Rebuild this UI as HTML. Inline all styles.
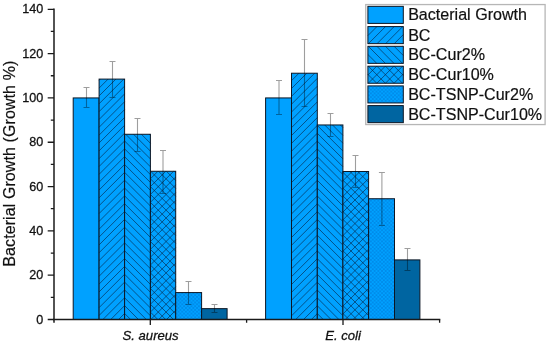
<!DOCTYPE html>
<html><head><meta charset="utf-8"><title>Bacterial Growth</title>
<style>
html,body{margin:0;padding:0;background:#fff;}
svg{display:block;font-family:"Liberation Sans",sans-serif;fill:#111;}
text{stroke:#111;}
</style></head>
<body>
<svg width="550" height="344" viewBox="0 0 550 344">
<defs>
<pattern id="p4" patternUnits="userSpaceOnUse" width="3.7" height="3.7">
<circle cx="0.925" cy="0.925" r="0.95" fill="#0040a0" fill-opacity="0.28"/>
<circle cx="2.775" cy="2.775" r="0.95" fill="#0040a0" fill-opacity="0.28"/>
</pattern>
</defs>
<rect width="550" height="344" fill="#fff"/>
<g>
<rect x="73.20" y="97.93" width="25.90" height="221.57" fill="#00a1ff"/>
<rect x="73.20" y="97.93" width="25.90" height="221.57" fill="none" stroke="#0c1624" stroke-width="1"/>
<rect x="99.10" y="79.10" width="25.50" height="240.40" fill="#00a1ff"/>
<path d="M99.10 80.24L100.24 79.10M99.10 88.08L108.08 79.10M99.10 95.92L115.92 79.10M99.10 103.76L123.76 79.10M99.10 111.60L124.60 86.10M99.10 119.44L124.60 93.94M99.10 127.28L124.60 101.78M99.10 135.12L124.60 109.62M99.10 142.96L124.60 117.46M99.10 150.80L124.60 125.30M99.10 158.64L124.60 133.14M99.10 166.48L124.60 140.98M99.10 174.32L124.60 148.82M99.10 182.16L124.60 156.66M99.10 190.00L124.60 164.50M99.10 197.84L124.60 172.34M99.10 205.68L124.60 180.18M99.10 213.52L124.60 188.02M99.10 221.36L124.60 195.86M99.10 229.20L124.60 203.70M99.10 237.04L124.60 211.54M99.10 244.88L124.60 219.38M99.10 252.72L124.60 227.22M99.10 260.56L124.60 235.06M99.10 268.40L124.60 242.90M99.10 276.24L124.60 250.74M99.10 284.08L124.60 258.58M99.10 291.92L124.60 266.42M99.10 299.76L124.60 274.26M99.10 307.60L124.60 282.10M99.10 315.44L124.60 289.94M102.88 319.50L124.60 297.78M110.72 319.50L124.60 305.62M118.56 319.50L124.60 313.46" stroke="#062445" stroke-width="0.64" fill="none"/>
<rect x="99.10" y="79.10" width="25.50" height="240.40" fill="none" stroke="#0c1624" stroke-width="1"/>
<rect x="124.60" y="134.27" width="25.80" height="185.23" fill="#00a1ff"/>
<path d="M149.25 134.27L150.40 135.42M141.41 134.27L150.40 143.26M133.57 134.27L150.40 151.10M125.73 134.27L150.40 158.94M124.60 140.98L150.40 166.78M124.60 148.82L150.40 174.62M124.60 156.66L150.40 182.46M124.60 164.50L150.40 190.30M124.60 172.34L150.40 198.14M124.60 180.18L150.40 205.98M124.60 188.02L150.40 213.82M124.60 195.86L150.40 221.66M124.60 203.70L150.40 229.50M124.60 211.54L150.40 237.34M124.60 219.38L150.40 245.18M124.60 227.22L150.40 253.02M124.60 235.06L150.40 260.86M124.60 242.90L150.40 268.70M124.60 250.74L150.40 276.54M124.60 258.58L150.40 284.38M124.60 266.42L150.40 292.22M124.60 274.26L150.40 300.06M124.60 282.10L150.40 307.90M124.60 289.94L150.40 315.74M124.60 297.78L146.32 319.50M124.60 305.62L138.48 319.50M124.60 313.46L130.64 319.50" stroke="#062445" stroke-width="0.64" fill="none"/>
<rect x="124.60" y="134.27" width="25.80" height="185.23" fill="none" stroke="#0c1624" stroke-width="1"/>
<rect x="150.40" y="171.27" width="25.30" height="148.23" fill="#00a1ff"/>
<path d="M150.40 178.80L157.93 171.27M150.40 186.64L165.77 171.27M150.40 194.48L173.61 171.27M150.40 202.32L175.70 177.02M150.40 210.16L175.70 184.86M150.40 218.00L175.70 192.70M150.40 225.84L175.70 200.54M150.40 233.68L175.70 208.38M150.40 241.52L175.70 216.22M150.40 249.36L175.70 224.06M150.40 257.20L175.70 231.90M150.40 265.04L175.70 239.74M150.40 272.88L175.70 247.58M150.40 280.72L175.70 255.42M150.40 288.56L175.70 263.26M150.40 296.40L175.70 271.10M150.40 304.24L175.70 278.94M150.40 312.08L175.70 286.78M150.82 319.50L175.70 294.62M158.66 319.50L175.70 302.46M166.50 319.50L175.70 310.30M174.34 319.50L175.70 318.14M174.23 171.27L175.70 172.74M166.39 171.27L175.70 180.58M158.55 171.27L175.70 188.42M150.71 171.27L175.70 196.26M150.40 178.80L175.70 204.10M150.40 186.64L175.70 211.94M150.40 194.48L175.70 219.78M150.40 202.32L175.70 227.62M150.40 210.16L175.70 235.46M150.40 218.00L175.70 243.30M150.40 225.84L175.70 251.14M150.40 233.68L175.70 258.98M150.40 241.52L175.70 266.82M150.40 249.36L175.70 274.66M150.40 257.20L175.70 282.50M150.40 265.04L175.70 290.34M150.40 272.88L175.70 298.18M150.40 280.72L175.70 306.02M150.40 288.56L175.70 313.86M150.40 296.40L173.50 319.50M150.40 304.24L165.66 319.50M150.40 312.08L157.82 319.50" stroke="#062445" stroke-width="0.64" fill="none"/>
<rect x="150.40" y="171.27" width="25.30" height="148.23" fill="none" stroke="#0c1624" stroke-width="1"/>
<rect x="175.70" y="292.58" width="25.90" height="26.92" fill="#00a1ff"/>
<rect x="175.70" y="292.58" width="25.90" height="26.92" fill="url(#p4)"/>
<rect x="175.70" y="292.58" width="25.90" height="26.92" fill="none" stroke="#0c1624" stroke-width="1"/>
<rect x="201.60" y="308.64" width="25.50" height="10.86" fill="#0065a1"/>
<rect x="201.60" y="308.64" width="25.50" height="10.86" fill="none" stroke="#0c1624" stroke-width="1"/>
<path d="M86.50 87.50V107.50M83.50 87.50h6M83.50 107.50h6" stroke="#000" stroke-opacity="0.38" stroke-width="1.1" fill="none"/>
<path d="M112.50 61.50V97.50M109.50 61.50h6M109.50 97.50h6" stroke="#000" stroke-opacity="0.38" stroke-width="1.1" fill="none"/>
<path d="M137.50 118.50V151.50M134.50 118.50h6M134.50 151.50h6" stroke="#000" stroke-opacity="0.38" stroke-width="1.1" fill="none"/>
<path d="M163.00 150.50V193.50M160.00 150.50h6M160.00 193.50h6" stroke="#000" stroke-opacity="0.38" stroke-width="1.1" fill="none"/>
<path d="M188.50 281.50V304.50M185.50 281.50h6M185.50 304.50h6" stroke="#000" stroke-opacity="0.38" stroke-width="1.1" fill="none"/>
<path d="M214.50 304.50V312.50M211.50 304.50h6M211.50 312.50h6" stroke="#000" stroke-opacity="0.38" stroke-width="1.1" fill="none"/>
<rect x="265.60" y="97.93" width="25.90" height="221.57" fill="#00a1ff"/>
<rect x="265.60" y="97.93" width="25.90" height="221.57" fill="none" stroke="#0c1624" stroke-width="1"/>
<rect x="291.50" y="73.22" width="25.80" height="246.28" fill="#00a1ff"/>
<path d="M291.50 80.66L298.94 73.22M291.50 88.50L306.78 73.22M291.50 96.34L314.62 73.22M291.50 104.18L317.30 78.38M291.50 112.02L317.30 86.22M291.50 119.86L317.30 94.06M291.50 127.70L317.30 101.90M291.50 135.54L317.30 109.74M291.50 143.38L317.30 117.58M291.50 151.22L317.30 125.42M291.50 159.06L317.30 133.26M291.50 166.90L317.30 141.10M291.50 174.74L317.30 148.94M291.50 182.58L317.30 156.78M291.50 190.42L317.30 164.62M291.50 198.26L317.30 172.46M291.50 206.10L317.30 180.30M291.50 213.94L317.30 188.14M291.50 221.78L317.30 195.98M291.50 229.62L317.30 203.82M291.50 237.46L317.30 211.66M291.50 245.30L317.30 219.50M291.50 253.14L317.30 227.34M291.50 260.98L317.30 235.18M291.50 268.82L317.30 243.02M291.50 276.66L317.30 250.86M291.50 284.50L317.30 258.70M291.50 292.34L317.30 266.54M291.50 300.18L317.30 274.38M291.50 308.02L317.30 282.22M291.50 315.86L317.30 290.06M295.70 319.50L317.30 297.90M303.54 319.50L317.30 305.74M311.38 319.50L317.30 313.58" stroke="#062445" stroke-width="0.64" fill="none"/>
<rect x="291.50" y="73.22" width="25.80" height="246.28" fill="none" stroke="#0c1624" stroke-width="1"/>
<rect x="317.30" y="124.96" width="25.60" height="194.54" fill="#00a1ff"/>
<path d="M340.36 124.96L342.90 127.50M332.52 124.96L342.90 135.34M324.68 124.96L342.90 143.18M317.30 125.42L342.90 151.02M317.30 133.26L342.90 158.86M317.30 141.10L342.90 166.70M317.30 148.94L342.90 174.54M317.30 156.78L342.90 182.38M317.30 164.62L342.90 190.22M317.30 172.46L342.90 198.06M317.30 180.30L342.90 205.90M317.30 188.14L342.90 213.74M317.30 195.98L342.90 221.58M317.30 203.82L342.90 229.42M317.30 211.66L342.90 237.26M317.30 219.50L342.90 245.10M317.30 227.34L342.90 252.94M317.30 235.18L342.90 260.78M317.30 243.02L342.90 268.62M317.30 250.86L342.90 276.46M317.30 258.70L342.90 284.30M317.30 266.54L342.90 292.14M317.30 274.38L342.90 299.98M317.30 282.22L342.90 307.82M317.30 290.06L342.90 315.66M317.30 297.90L338.90 319.50M317.30 305.74L331.06 319.50M317.30 313.58L323.22 319.50" stroke="#062445" stroke-width="0.64" fill="none"/>
<rect x="317.30" y="124.96" width="25.60" height="194.54" fill="none" stroke="#0c1624" stroke-width="1"/>
<rect x="342.90" y="171.49" width="25.70" height="148.01" fill="#00a1ff"/>
<path d="M342.90 172.90L344.31 171.49M342.90 180.74L352.15 171.49M342.90 188.58L359.99 171.49M342.90 196.42L367.83 171.49M342.90 204.26L368.60 178.56M342.90 212.10L368.60 186.40M342.90 219.94L368.60 194.24M342.90 227.78L368.60 202.08M342.90 235.62L368.60 209.92M342.90 243.46L368.60 217.76M342.90 251.30L368.60 225.60M342.90 259.14L368.60 233.44M342.90 266.98L368.60 241.28M342.90 274.82L368.60 249.12M342.90 282.66L368.60 256.96M342.90 290.50L368.60 264.80M342.90 298.34L368.60 272.64M342.90 306.18L368.60 280.48M342.90 314.02L368.60 288.32M345.26 319.50L368.60 296.16M353.10 319.50L368.60 304.00M360.94 319.50L368.60 311.84M365.61 171.49L368.60 174.48M357.77 171.49L368.60 182.32M349.93 171.49L368.60 190.16M342.90 172.30L368.60 198.00M342.90 180.14L368.60 205.84M342.90 187.98L368.60 213.68M342.90 195.82L368.60 221.52M342.90 203.66L368.60 229.36M342.90 211.50L368.60 237.20M342.90 219.34L368.60 245.04M342.90 227.18L368.60 252.88M342.90 235.02L368.60 260.72M342.90 242.86L368.60 268.56M342.90 250.70L368.60 276.40M342.90 258.54L368.60 284.24M342.90 266.38L368.60 292.08M342.90 274.22L368.60 299.92M342.90 282.06L368.60 307.76M342.90 289.90L368.60 315.60M342.90 297.74L364.66 319.50M342.90 305.58L356.82 319.50M342.90 313.42L348.98 319.50" stroke="#062445" stroke-width="0.64" fill="none"/>
<rect x="342.90" y="171.49" width="25.70" height="148.01" fill="none" stroke="#0c1624" stroke-width="1"/>
<rect x="368.60" y="198.74" width="25.90" height="120.76" fill="#00a1ff"/>
<rect x="368.60" y="198.74" width="25.90" height="120.76" fill="url(#p4)"/>
<rect x="368.60" y="198.74" width="25.90" height="120.76" fill="none" stroke="#0c1624" stroke-width="1"/>
<rect x="394.50" y="259.90" width="25.40" height="59.60" fill="#0065a1"/>
<rect x="394.50" y="259.90" width="25.40" height="59.60" fill="none" stroke="#0c1624" stroke-width="1"/>
<path d="M279.00 80.50V114.50M276.00 80.50h6M276.00 114.50h6" stroke="#000" stroke-opacity="0.38" stroke-width="1.1" fill="none"/>
<path d="M304.50 39.50V106.50M301.50 39.50h6M301.50 106.50h6" stroke="#000" stroke-opacity="0.38" stroke-width="1.1" fill="none"/>
<path d="M330.50 113.50V136.50M327.50 113.50h6M327.50 136.50h6" stroke="#000" stroke-opacity="0.38" stroke-width="1.1" fill="none"/>
<path d="M355.50 155.50V187.50M352.50 155.50h6M352.50 187.50h6" stroke="#000" stroke-opacity="0.38" stroke-width="1.1" fill="none"/>
<path d="M381.90 172.50V225.50M378.90 172.50h6M378.90 225.50h6" stroke="#000" stroke-opacity="0.38" stroke-width="1.1" fill="none"/>
<path d="M407.50 248.50V270.50M404.50 248.50h6M404.50 270.50h6" stroke="#000" stroke-opacity="0.38" stroke-width="1.1" fill="none"/>
</g>
<g>
<path d="M54 8.50V322.70" stroke="#1a1a1a" stroke-width="1.5" fill="none"/>
<path d="M53.1 319.50H440.3" stroke="#1a1a1a" stroke-width="1.45" fill="none"/>
<path d="M47.7 319.50H54M47.7 275.19H54M47.7 230.87H54M47.7 186.56H54M47.7 142.24H54M47.7 97.93H54M47.7 53.62H54M47.7 9.30H54M50.8 297.34H54M50.8 253.03H54M50.8 208.72H54M50.8 164.40H54M50.8 120.09H54M50.8 75.77H54M50.8 31.46H54M150.3 319.5V325.10M343 319.5V325.10M246.6 319.5V322.70M439.6 319.5V322.70" stroke="#1a1a1a" stroke-width="1.3" fill="none"/>
</g>
<g font-size="13.1" stroke-width="0.28">
<text transform="translate(43.2 323.60) scale(0.962 1)" text-anchor="end">0</text>
<text transform="translate(43.2 279.29) scale(0.962 1)" text-anchor="end">20</text>
<text transform="translate(43.2 234.97) scale(0.962 1)" text-anchor="end">40</text>
<text transform="translate(43.2 190.66) scale(0.962 1)" text-anchor="end">60</text>
<text transform="translate(43.2 146.34) scale(0.962 1)" text-anchor="end">80</text>
<text transform="translate(43.2 102.03) scale(0.962 1)" text-anchor="end">100</text>
<text transform="translate(43.2 57.72) scale(0.962 1)" text-anchor="end">120</text>
<text transform="translate(43.2 13.40) scale(0.962 1)" text-anchor="end">140</text>
<text x="150.6" y="340" text-anchor="middle" font-style="italic">S. aureus</text>
<text x="343.1" y="340" text-anchor="middle" font-style="italic">E. coli</text>
</g>
<text stroke-width="0.18" transform="translate(15.1 163.7) rotate(-90)" text-anchor="middle" font-size="16" textLength="206" lengthAdjust="spacing">Bacterial Growth (Growth %)</text>
<rect x="365.75" y="4.55" width="179.35" height="120.0" fill="#fff" stroke="#b6b6b6" stroke-width="1.3"/>
<g>
<rect x="367.90" y="6.35" width="35.40" height="17.05" fill="#00a1ff"/>
<rect x="367.90" y="6.35" width="35.40" height="17.05" fill="none" stroke="#0c1624" stroke-width="1"/>
<rect x="367.90" y="26.60" width="35.40" height="17.05" fill="#00a1ff"/>
<path d="M367.90 27.00L368.30 26.60M367.90 35.60L376.90 26.60M368.45 43.65L385.50 26.60M377.05 43.65L394.10 26.60M385.65 43.65L402.70 26.60M394.25 43.65L403.30 34.60M402.85 43.65L403.30 43.20" stroke="#062445" stroke-width="0.64" fill="none"/>
<rect x="367.90" y="26.60" width="35.40" height="17.05" fill="none" stroke="#0c1624" stroke-width="1"/>
<rect x="367.90" y="46.30" width="35.40" height="17.05" fill="#00a1ff"/>
<path d="M402.70 46.30L403.30 46.90M394.10 46.30L403.30 55.50M385.50 46.30L402.55 63.35M376.90 46.30L393.95 63.35M368.30 46.30L385.35 63.35M367.90 54.50L376.75 63.35M367.90 63.10L368.15 63.35" stroke="#062445" stroke-width="0.64" fill="none"/>
<rect x="367.90" y="46.30" width="35.40" height="17.05" fill="none" stroke="#0c1624" stroke-width="1"/>
<rect x="367.90" y="66.20" width="35.40" height="17.05" fill="#00a1ff"/>
<path d="M367.90 66.40L368.10 66.20M367.90 75.00L376.70 66.20M368.25 83.25L385.30 66.20M376.85 83.25L393.90 66.20M385.45 83.25L402.50 66.20M394.05 83.25L403.30 74.00M402.65 83.25L403.30 82.60M402.70 66.20L403.30 66.80M394.10 66.20L403.30 75.40M385.50 66.20L402.55 83.25M376.90 66.20L393.95 83.25M368.30 66.20L385.35 83.25M367.90 74.40L376.75 83.25M367.90 83.00L368.15 83.25" stroke="#062445" stroke-width="0.64" fill="none"/>
<rect x="367.90" y="66.20" width="35.40" height="17.05" fill="none" stroke="#0c1624" stroke-width="1"/>
<rect x="367.90" y="85.90" width="35.40" height="17.05" fill="#00a1ff"/>
<rect x="367.90" y="85.90" width="35.40" height="17.05" fill="url(#p4)"/>
<rect x="367.90" y="85.90" width="35.40" height="17.05" fill="none" stroke="#0c1624" stroke-width="1"/>
<rect x="367.90" y="105.60" width="35.40" height="17.05" fill="#0065a1"/>
<rect x="367.90" y="105.60" width="35.40" height="17.05" fill="none" stroke="#0c1624" stroke-width="1"/>
</g>
<g font-size="16.08" stroke-width="0.2">
<text x="408.15" y="20.35">Bacterial Growth</text>
<text x="408.15" y="40.60">BC</text>
<text x="408.15" y="60.30">BC-Cur2%</text>
<text x="408.15" y="80.20">BC-Cur10%</text>
<text x="408.15" y="99.90">BC-TSNP-Cur2%</text>
<text x="408.15" y="119.60">BC-TSNP-Cur10%</text>
</g>
</svg>
</body></html>
